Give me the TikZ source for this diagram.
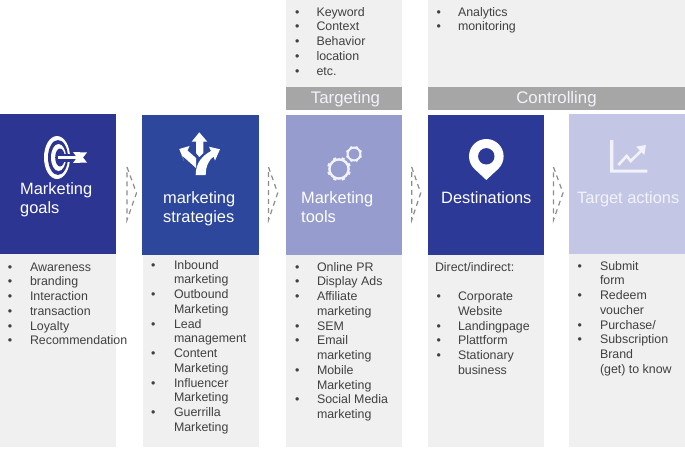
\documentclass[tikz,border=0pt]{standalone}
\usepackage{fontspec}
\setmainfont{Liberation Sans}
\definecolor{cA}{HTML}{2D3592}
\definecolor{cB}{HTML}{2C479C}
\definecolor{cC}{HTML}{969CCE}
\definecolor{cD}{HTML}{2D3996}
\definecolor{cE}{HTML}{C3C7E5}
\definecolor{pale}{HTML}{F0F0F0}
\definecolor{barc}{HTML}{A6A6A6}
\definecolor{ink}{HTML}{404040}
\definecolor{soft}{HTML}{F2F3FA}
\tikzset{
  panel/.style={fill=pale,draw=none},
  barbox/.style={fill=barc,draw=none},
  head/.style={anchor=base west,inner sep=0pt,text=white,font=\fontsize{16.4}{19.4}\selectfont,align=left},
  bartext/.style={anchor=base,inner sep=0pt,text=soft,font=\fontsize{16.8}{19}\selectfont},
  listtext/.style={anchor=north west,inner sep=0pt,outer sep=0pt,text=ink,align=left,font=\fontsize{12.4}{14.77}\selectfont},
  chev/.style={draw=black!45,line width=1.2pt,dash pattern=on 5pt off 4pt},
  iconw/.style={fill=white,draw=none},
}
\newcommand{\firstl}{\rule{0pt}{12pt}}
\newcommand{\bx}{•}
\begin{document}
\begin{tikzpicture}[x=1pt,y=-1pt]
\useasboundingbox (0,0) rectangle (685,448);
% panels
\fill[panel] (0,254) rectangle (116,447);
\fill[panel] (143,254) rectangle (259,447);
\fill[panel] (286,254) rectangle (402,447);
\fill[panel] (428,254) rectangle (544,447);
\fill[panel] (569,253) rectangle (685,447);
\fill[panel] (286,0) rectangle (402,87);
\fill[panel] (428,0) rectangle (685,87);
% bars
\fill[barbox] (286,87) rectangle (402,110);
\fill[barbox] (428,87) rectangle (685,110);
\node[bartext] (targeting) at (345.5,103) {Targeting};
\node[bartext] (controlling) at (556.5,103) {Controlling};
% main boxes
\fill[cA] (0,114) rectangle (116,254);
\fill[cB] (142,115) rectangle (258.5,254.5);
\fill[cC] (286,115) rectangle (402,255);
\fill[cD] (427.5,115) rectangle (544,255);
\fill[cE] (569,114) rectangle (685,253.5);
% headings
\node[head] (goals) at (20,213.4) {Marketing\\goals};
\node[head] (strategies) at (163,222.4) {marketing\\strategies};
\node[head] (tools) at (301,222.4) {Marketing\\tools};
\node[head] (destinations) at (441,203) {Destinations};
\node[head,text=soft] (actions) at (577,203) {Target actions};
% chevrons
\foreach \xa/\xb in {127/136.5,268.5/277.7,411.7/420.7,553.5/563}{
  \draw[chev] (\xa,167) -- (\xb,193) -- (\xa,220) -- cycle;
}
% target icon
\fill[white] (57,157.5) ellipse (13 and 21.5);
\fill[cA] (58,157.5) ellipse (10 and 17.5);
\fill[white] (58.5,157.5) ellipse (7.5 and 13.5);
\fill[cA] (60,157.5) ellipse (4.8 and 9);
\fill[cA] (58,153.5) rectangle (76,161.5);
\fill[white] (57.5,155.6) rectangle (78,159.3);
\fill[white] (73,152) -- (87,152.5) -- (83,157.5) -- (87,162.5) -- (73,163) -- (77,157.5) -- cycle;
% arrows icon
\fill[white] (199.3,132.3) -- (207.3,141.7) -- (203.3,141.7) -- (203.3,153) -- (199.3,157) -- (196,153) -- (196,141.7) -- (191.7,141.7) -- cycle;
\fill[white] (179.3,149) -- (189.5,146) -- (187.5,150.5) -- (196,158) -- (196,168) -- (182,155.5)-- (184,161) -- cycle;
\fill[white] (220,149.3) -- (209,146.7) -- (211,151) .. controls (202,156) and (195.7,163) .. (195.7,175) -- (205.7,175) .. controls (205.7,166) and (209,160) .. (213.5,156.5) -- (215,160.5) -- cycle;
% gears icon
\foreach \cx/\cy/\ro/\ri/\tl/\tw in {339/169/9.6/2.4/2.4/3.2,354/154/6.4/2/1.7/2.4}{
  \draw[soft,line width=\ri pt] (\cx,\cy) circle (\ro);
  \foreach \a in {0,45,...,315}{
    \draw[soft,line width=\tw pt] ({\cx+(\ro)*cos(\a+22)},{\cy+(\ro)*sin(\a+22)}) -- ({\cx+(\ro+\tl)*cos(\a+22)},{\cy+(\ro+\tl)*sin(\a+22)});
  }
}
% pin icon
\fill[white] (486.3,156.3) circle (17.3);
\fill[white] (486.3,180) -- (474.5,168.9) -- (498.1,168.9) -- cycle;
\fill[cD] (486.3,156.3) circle (8.2);
% chart icon
\fill[soft] (610,140) -- (613.3,140) -- (613.3,169.7) -- (647.3,169.7) -- (647.3,172.7) -- (610,172.7) -- cycle;
\draw[soft,line width=2.6pt,line join=miter] (618.3,165) -- (626.7,156) -- (630.7,161) -- (641,151);
\fill[soft] (645.9,145) -- (636,146.7) -- (644.3,155) -- cycle;
% lists
\node[listtext] (l1b) at (8,259) {\firstl\bx\\\bx\\\bx\\\bx\\\bx\\\bx};
\node[listtext] (l1t) at (30,259) {\firstl Awareness\\branding\\Interaction\\transaction\\Loyalty\\Recommendation};
\node[listtext] (l2b) at (151,257) {\firstl\bx\\\\\bx\\\\\bx\\\\\bx\\\\\bx\\\\\bx};
\node[listtext] (l2t) at (174,257) {\firstl Inbound\\marketing\\Outbound\\Marketing\\Lead\\management\\Content\\Marketing\\Influencer\\Marketing\\Guerrilla\\Marketing};
\node[listtext] (l3b) at (295,259) {\firstl\bx\\\bx\\\bx\\\\\bx\\\bx\\\\\bx\\\\\bx};
\node[listtext] (l3t) at (317,259) {\firstl Online PR\\Display Ads\\Affiliate\\marketing\\SEM\\Email\\marketing\\Mobile\\Marketing\\Social Media\\marketing};
\node[listtext] (l4h) at (435,259) {\firstl Direct/indirect:};
\node[listtext] (l4b) at (436.5,288.5) {\firstl\bx\\\\\bx\\\bx\\\bx};
\node[listtext] (l4t) at (458,288.5) {\firstl Corporate\\Website\\Landingpage\\Plattform\\Stationary\\business};
\node[listtext] (l5b) at (577.5,258) {\firstl\bx\\\\\bx\\\\\bx\\\bx};
\node[listtext] (l5t) at (600,258) {\firstl Submit\\form\\Redeem\\voucher\\Purchase/\\Subscription\\Brand\\(get) to know};
\node[listtext] (t1b) at (295,4) {\firstl\bx\\\bx\\\bx\\\bx\\\bx};
\node[listtext] (t1t) at (316.5,4) {\firstl Keyword\\Context\\Behavior\\location\\etc.};
\node[listtext] (t2b) at (436.5,4) {\firstl\bx\\\bx};
\node[listtext] (t2t) at (458,4) {\firstl Analytics\\monitoring};
\end{tikzpicture}
\end{document}
